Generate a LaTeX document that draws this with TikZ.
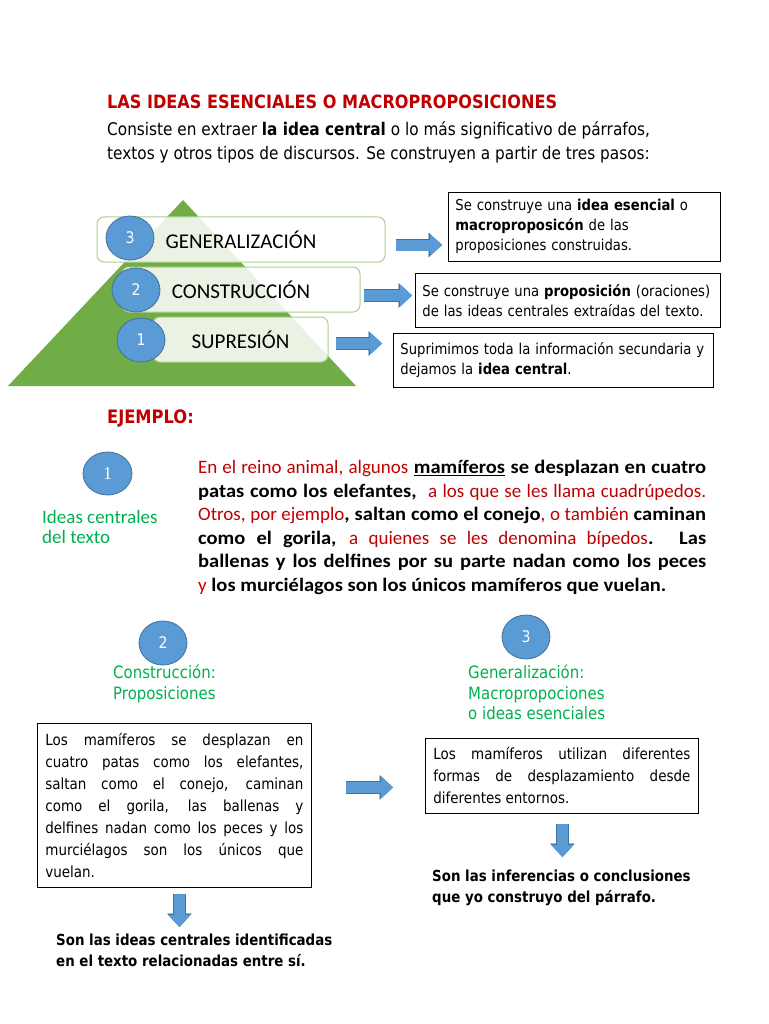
\documentclass[tikz,border=0pt]{standalone}
\usepackage{fontspec}
\setmainfont{Carlito}
\newfontfamily\tahoma[FakeStretch=0.88]{DejaVu Sans}
\newfontfamily\parfont[FakeStretch=1.08]{Carlito}
\newfontfamily\numserif{Liberation Serif}
\newcommand\rojo[1]{\textcolor{titlered}{\normalfont #1}}
\usetikzlibrary{arrows.meta,shapes.geometric}
\definecolor{titlered}{HTML}{C00000}
\definecolor{pyrgreen}{HTML}{70AD47}
\definecolor{bargreen}{HTML}{A9D18E}
\definecolor{labgreen}{HTML}{00B050}
\definecolor{stepblue}{HTML}{5B9BD5}
\definecolor{stepedge}{HTML}{41719C}
\tikzset{
  numdot/.style={ellipse, fill=stepblue, draw=stepedge, line width=0.8pt, minimum width=48pt, minimum height=44pt, inner sep=0pt, text=white, font=\tahoma\fontsize{16}{16}\selectfont},
  stepbar/.style={rounded corners=7pt, draw=bargreen, line width=1pt, fill=white, fill opacity=0.85, text opacity=1, minimum height=45pt, font=\fontsize{21}{21}\selectfont},
  infobox/.style={draw, line width=0.8pt, anchor=north west, align=left, inner sep=7pt, font=\tahoma\fontsize{15}{20}\selectfont},
  exbox/.style={draw, line width=0.8pt, anchor=north west, align=justify, inner sep=8pt, font=\tahoma\fontsize{15.3}{22}\selectfont},
  greenlab/.style={anchor=north west, inner sep=0pt, align=left, text=labgreen, font=\tahoma\fontsize{17}{20.5}\selectfont},
  concl/.style={anchor=north west, inner sep=0pt, align=left, font=\tahoma\bfseries\fontsize{15.2}{21}\selectfont},
  bigarrow/.style={draw=stepblue, line width=11pt, -{Triangle[width=22pt,length=12pt,line width=0.1pt]},
    preaction={draw=stepedge, line width=12.5pt, -{Triangle[width=24.5pt,length=13.5pt,line width=0.1pt]}}},
}

\begin{document}
\begin{tikzpicture}[x=1pt,y=-1pt]
	\useasboundingbox (0,0) rectangle (768,1024);
	\fill[white] (0,0) rectangle (768,1024);
	\node[anchor=base west, inner sep=0pt, text=titlered, font=\tahoma\bfseries\fontsize{18.3}{18.3}\selectfont] (title) at (107,109) {LAS IDEAS ESENCIALES O MACROPROPOSICIONES};
	\node[anchor=north west, inner sep=0pt, align=left, font=\tahoma\fontsize{17.4}{24}\selectfont] (intro) at (107,121) {Consiste en extraer \textbf{la idea central} o lo más significativo de párrafos,\\textos y otros tipos de discursos. Se construyen a partir de tres pasos:};

	\fill[pyrgreen] (8,386) -- (183,200) -- (356,386) -- cycle;
	\node[stepbar, minimum width=288pt] (bar3) at (241,239.5) {GENERALIZACIÓN};
	\node[stepbar, minimum width=238pt] (bar2) at (241,289.5) {CONSTRUCCIÓN};
	\node[stepbar, minimum width=175pt] (bar1) at (240.5,339.5) {SUPRESIÓN};
	\node[numdot] (dot3) at (130,238) {3};
	\node[numdot] (dot2) at (136,290) {2};
	\node[numdot] (dot1) at (141,340) {1};

	\node[infobox, text width=258pt, minimum height=68pt] (box3) at (448,192) {Se construye una \textbf{idea esencial} o\\\textbf{macroproposicón} de las\\proposiciones construidas.};
	\node[infobox, text width=291pt, minimum height=54pt] (box2) at (415,273) {Se construye una \textbf{proposición} (oraciones)\\de las ideas centrales extraídas del texto.};
	\node[infobox, text width=306pt, minimum height=54pt] (box1) at (393,333) {Suprimimos toda la información secundaria y\\dejamos la \textbf{idea central}.};
	\draw[bigarrow] ([xshift=10pt,yshift=-5.5pt]bar3.east) -- ([xshift=-6pt,yshift=-5.5pt]bar3.east -| box3.west);
	\draw[bigarrow] ([xshift=3pt,yshift=-6pt]bar2.east) -- ([xshift=-3pt,yshift=-6pt]bar2.east -| box2.west);
	\draw[bigarrow] ([xshift=7pt,yshift=-4pt]bar1.east) -- ([xshift=-11pt,yshift=-4pt]bar1.east -| box1.west);

	\node[anchor=base west, inner sep=0pt, text=titlered, font=\tahoma\bfseries\fontsize{18.5}{18.5}\selectfont] (ejemplo) at (107,423) {EJEMPLO:};
	\node[numdot, minimum width=49pt, minimum height=43pt, font=\numserif\fontsize{18}{18}\selectfont] (exdot1) at (107.5,473.5) {1};
	\node[anchor=north west, inner sep=0pt, align=left, text=labgreen, font=\fontsize{19}{20}\selectfont] (ideas) at (42,510) {Ideas centrales\\del texto};
	\node[anchor=north west, inner sep=0pt, text width=508pt, align=justify, font=\parfont\bfseries\fontsize{19}{23.6}\selectfont] (parrafo) at (198,460)
		{\hyphenpenalty=10000\exhyphenpenalty=10000
		\rojo{En el reino animal, algunos} \underline{mamíferos} se desplazan en cuatro\linebreak
		patas como los elefantes,\ \ \rojo{a los que se les llama cuadrúpedos.}\linebreak
		\rojo{Otros, por ejemplo}, saltan como el conejo\rojo{, o también} caminan\linebreak
		como el gorila, \rojo{a quienes se les denomina bípedos}. Las\linebreak
		ballenas y los delfines por su parte nadan como los peces\linebreak
		\rojo{y} los murciélagos son los únicos mamíferos que vuelan.};

	\node[numdot] (exdot2) at (163,643) {2};
	\node[numdot] (exdot3) at (526,637) {3};
	\node[greenlab] (lab2) at (113,665) {Construcción:\\Proposiciones};
	\node[greenlab] (lab3) at (468,665) {Generalización:\\Macropropociones\\o ideas esenciales};
	\node[exbox, text width=258pt, minimum height=164pt] (ex2box) at (37,723)
		{Los mamíferos se desplazan en\linebreak
		cuatro patas como los elefantes,\linebreak
		saltan como el conejo, caminan\linebreak
		como el gorila, las ballenas y\linebreak
		delfines nadan como los peces y los\linebreak
		murciélagos son los únicos que\linebreak
		vuelan.};
	\node[exbox, text width=257pt, minimum height=75pt] (ex3box) at (425,738)
		{Los mamíferos utilizan diferentes\linebreak
		formas de desplazamiento desde\linebreak
		diferentes entornos.};
	\draw[bigarrow] ([xshift=34pt,yshift=18pt]ex2box.east) -- ([xshift=-32pt,yshift=18pt]ex2box.east -| ex3box.west);
	\node[concl] (concl2) at (56,934) {Son las ideas centrales identificadas\\en el texto relacionadas entre sí.};
	\node[concl] (concl3) at (432,870) {Son las inferencias o conclusiones\\que yo construyo del párrafo.};
	\draw[bigarrow] ([xshift=5pt,yshift=-6pt]ex2box.south) -- ([xshift=5pt,yshift=7pt]ex2box.south |- concl2.north);
	\draw[bigarrow] ([xshift=0.5pt,yshift=-10pt]ex3box.south) -- ([xshift=0.5pt,yshift=13pt]ex3box.south |- concl3.north);
\end{tikzpicture}
\end{document}
